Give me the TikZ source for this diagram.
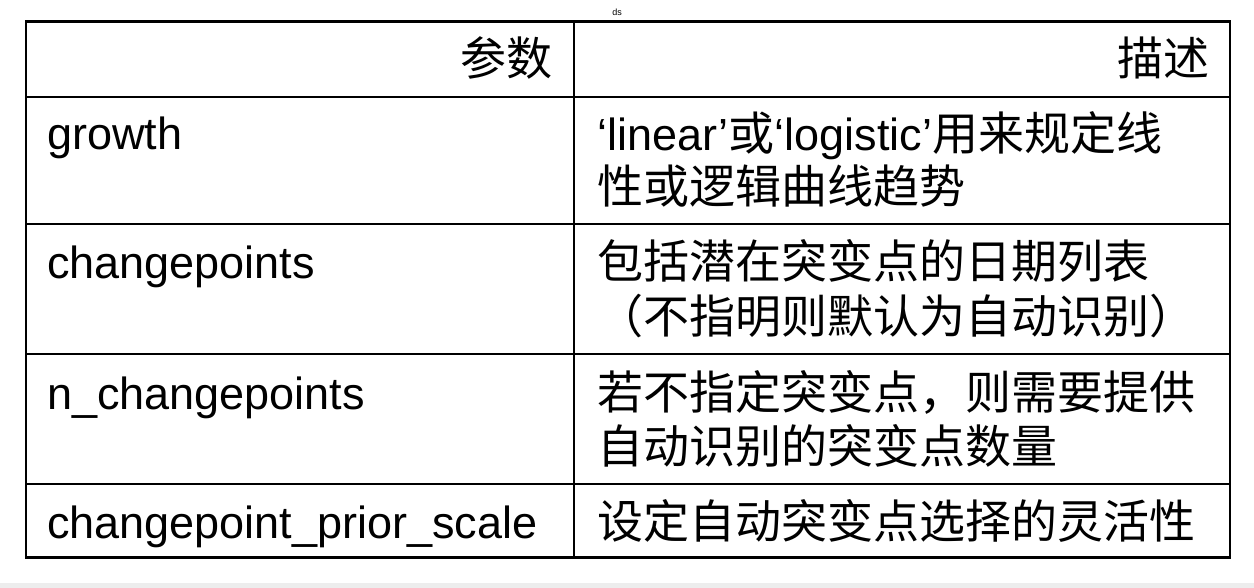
\documentclass[tikz,border=0pt]{standalone}
\usepackage{fontspec}
\setmainfont{Liberation Sans}
\newfontfamily\cjk{Noto Sans CJK SC}
\begin{document}
\begin{tikzpicture}[x=1pt,y=-1pt,
  lat/.style={anchor=base west,inner sep=0pt,font=\fontsize{45}{50}\selectfont},
  zh/.style={anchor=base west,inner sep=0pt,font=\fontsize{46}{50}\selectfont\cjk},
  hd/.style={anchor=base east,inner sep=0pt,font=\fontsize{46}{50}\selectfont\cjk}]
\useasboundingbox (0,0) rectangle (1254,588);
\fill[white] (0,0) rectangle (1254,588);
\fill[black!7] (0,583) rectangle (1254,588);
\node[inner sep=0pt,font=\fontsize{9}{10}\selectfont] (ds) at (617,12) {ds};
% grid
\draw[line width=1.2pt] (26,97) -- (1230,97);
\draw[line width=1.2pt] (26,224) -- (1230,224);
\draw[line width=1.2pt] (26,354) -- (1230,354);
\draw[line width=1.2pt] (26,484) -- (1230,484);
\draw[line width=1.2pt] (574,22) -- (574,557);
\draw[line width=1.2pt] (26,22) -- (26,557);
\draw[line width=1.2pt] (1230,22) -- (1230,557);
\draw[line width=3pt] (25,22) -- (1231,22);
\draw[line width=3pt] (25,557) -- (1231,557);
% header
\node[hd] (h1) at (553,76) {参数};
\node[hd] (h2) at (1210,76) {描述};
% rows
\node[lat] (a1) at (47,150) {growth};
\node[zh] (b1) at (597,151) {{\fontspec{Liberation Sans}\fontsize{45}{50}\selectfont‘linear’}或{\fontspec{Liberation Sans}\fontsize{45}{50}\selectfont‘logistic’}用来规定线};
\node[zh] (b1b) at (597,204) {性或逻辑曲线趋势};
\node[lat] (a2) at (47,279) {changepoints};
\node[zh] (b2) at (597,279) {包括潜在突变点的日期列表};
\node[zh] (b2b) at (597,334) {（不指明则默认为自动识别）};
\node[lat] (a3) at (47,409) {n\_changepoints};
\node[zh] (b3) at (597,409) {若不指定突变点，则需要提供};
\node[zh] (b3b) at (597,463) {自动识别的突变点数量};
\node[lat] (a4) at (47,538) {changepoint\_prior\_scale};
\node[zh] (b4) at (597,538) {设定自动突变点选择的灵活性};
\end{tikzpicture}
\end{document}
